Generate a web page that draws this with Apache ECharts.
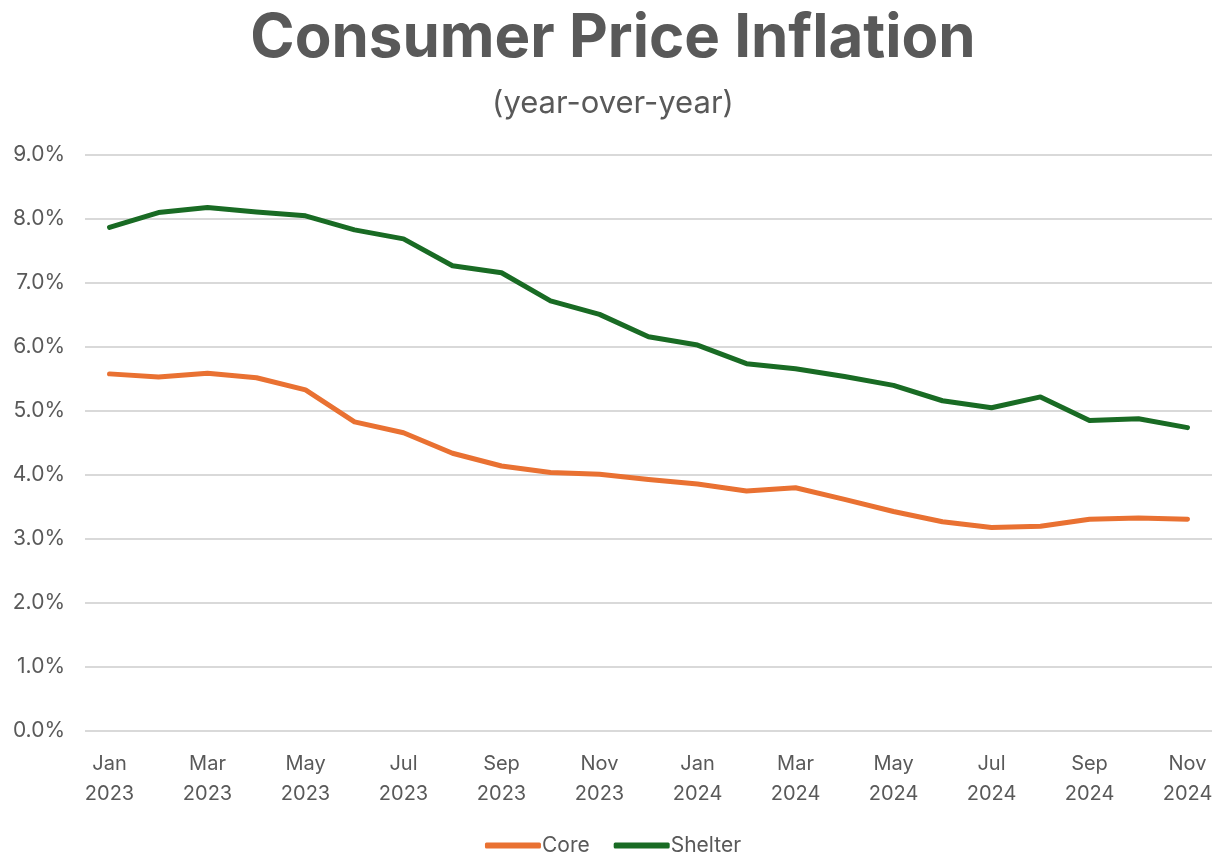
<!DOCTYPE html>
<html>
<head>
<meta charset="utf-8">
<title>Consumer Price Inflation</title>
<script src="https://cdn.jsdelivr.net/npm/echarts@6/dist/echarts.min.js"></script>
<style>
  html, body { margin: 0; padding: 0; background: #fff; }
  #chart { width: 1226px; height: 864px; }
</style>
</head>
<body>
<div id="chart"></div>
<script>
// months Jan 2023 .. Nov 2024
var months = ['Jan\n2023','Feb\n2023','Mar\n2023','Apr\n2023','May\n2023','Jun\n2023','Jul\n2023','Aug\n2023','Sep\n2023','Oct\n2023','Nov\n2023','Dec\n2023',
              'Jan\n2024','Feb\n2024','Mar\n2024','Apr\n2024','May\n2024','Jun\n2024','Jul\n2024','Aug\n2024','Sep\n2024','Oct\n2024','Nov\n2024'];
var core    = [5.58, 5.53, 5.59, 5.52, 5.33, 4.83, 4.66, 4.34, 4.14, 4.04, 4.01, 3.93, 3.86, 3.75, 3.80, 3.62, 3.43, 3.27, 3.18, 3.20, 3.31, 3.33, 3.31];
var shelter = [7.87, 8.10, 8.18, 8.11, 8.05, 7.83, 7.69, 7.27, 7.16, 6.72, 6.51, 6.16, 6.03, 5.74, 5.66, 5.54, 5.40, 5.16, 5.05, 5.22, 4.85, 4.88, 4.74];
var yTicks = { min: 0, max: 9, interval: 1 };

var textColor = '#595959';
var chart = echarts.init(document.getElementById('chart'));

chart.setOption({
  animation: false,
  title: [
    {
      text: 'Consumer Price Inflation',
      left: 'center', top: 4,
      textStyle: { fontFamily: 'Inter', fontSize: 60, fontWeight: 'bold', color: textColor }
    },
    {
      text: '(year-over-year)',
      left: 'center', top: 83,
      textStyle: { fontFamily: 'Inter', fontSize: 31, fontWeight: 'normal', color: textColor }
    }
  ],
  legend: {
    bottom: 3, left: 'center',
    itemWidth: 56, itemHeight: 6, itemGap: 24,
    icon: 'roundRect',
    textStyle: { fontFamily: 'Inter', fontSize: 21, color: textColor, padding: [0, 0, 0, -4] },
    data: ['Core', 'Shelter']
  },
  grid: { left: 85, right: 14, top: 155, bottom: 133 },
  xAxis: {
    type: 'category',
    data: months,
    boundaryGap: true,
    axisLine: { show: false },
    axisTick: { show: false },
    axisLabel: {
      interval: 1,
      margin: 18,
      fontFamily: 'Inter', fontSize: 20, color: textColor, lineHeight: 30
    }
  },
  yAxis: {
    type: 'value',
    min: yTicks.min, max: yTicks.max, interval: yTicks.interval,
    axisLabel: {
      formatter: function (v) { return v.toFixed(1) + '%'; },
      margin: 20,
      fontFamily: 'Inter', fontSize: 21, color: textColor
    },
    splitLine: { lineStyle: { color: '#d9d9d9', width: 2 } }
  },
  series: [
    {
      name: 'Core', type: 'line', data: core,
      showSymbol: false, symbol: 'none',
      lineStyle: { color: '#E97132', width: 5, cap: 'round', join: 'round' },
      itemStyle: { color: '#E97132' }
    },
    {
      name: 'Shelter', type: 'line', data: shelter,
      showSymbol: false, symbol: 'none',
      lineStyle: { color: '#196B24', width: 5, cap: 'round', join: 'round' },
      itemStyle: { color: '#196B24' }
    }
  ]
});
</script>
</body>
</html>
